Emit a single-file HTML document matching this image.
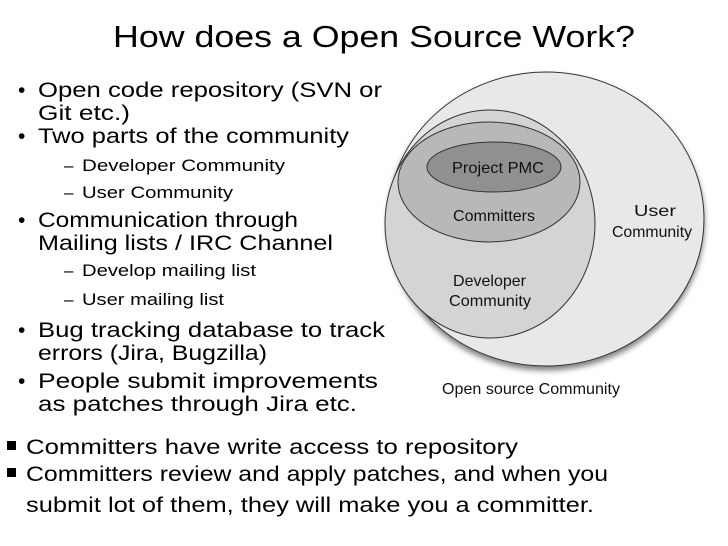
<!DOCTYPE html>
<html><head><meta charset="utf-8"><style>html,body{margin:0;padding:0;background:#fff}svg{display:block}</style></head><body>
<svg width="728" height="546" viewBox="0 0 728 546" xmlns="http://www.w3.org/2000/svg">
<defs><filter id="sh" x="-10%" y="-10%" width="120%" height="125%"><feGaussianBlur in="SourceAlpha" stdDeviation="3"/><feOffset dx="0" dy="4"/><feComponentTransfer><feFuncA type="linear" slope="0.5"/></feComponentTransfer><feMerge><feMergeNode/><feMergeNode in="SourceGraphic"/></feMerge></filter></defs>
<g font-family="Liberation Sans, Arial, sans-serif" fill="#000">
<ellipse cx="546" cy="219" rx="158" ry="147" fill="#e8e8e8" stroke="#333" stroke-width="1" filter="url(#sh)"/>
<ellipse cx="490" cy="224" rx="105" ry="114" fill="#d4d4d4" stroke="#333" stroke-width="1"/>
<ellipse cx="489" cy="182" rx="91" ry="60" fill="#b8b8b8" stroke="#333" stroke-width="1"/>
<ellipse cx="494" cy="167" rx="67" ry="25" fill="#909090" stroke="#333" stroke-width="1"/>
<g font-size="16" fill="#111">
<text x="452" y="173" textLength="92" lengthAdjust="spacingAndGlyphs">Project PMC</text>
<text x="453" y="221" textLength="82" lengthAdjust="spacingAndGlyphs">Committers</text>
<text x="453" y="286" textLength="73" lengthAdjust="spacingAndGlyphs">Developer</text>
<text x="449" y="306" textLength="82" lengthAdjust="spacingAndGlyphs">Community</text>
<text x="634" y="216" textLength="42" lengthAdjust="spacingAndGlyphs">User</text>
<text x="612" y="237" textLength="80" lengthAdjust="spacingAndGlyphs">Community</text>
<text x="442" y="394" textLength="178" lengthAdjust="spacingAndGlyphs">Open source Community</text>
</g>
</g>
<g font-family="Liberation Sans, Carlito, sans-serif" fill="#000">
<text x="113" y="47" font-size="31" textLength="522" lengthAdjust="spacingAndGlyphs">How does a Open Source Work?</text>
<g font-size="21">
<text x="18" y="97">•</text><text x="38" y="97" textLength="344" lengthAdjust="spacingAndGlyphs">Open code repository (SVN or</text>
<text x="38" y="120" textLength="92" lengthAdjust="spacingAndGlyphs">Git etc.)</text>
<text x="18" y="143">•</text><text x="38" y="143" textLength="311" lengthAdjust="spacingAndGlyphs">Two parts of the community</text>
<text x="18" y="227">•</text><text x="38" y="227" textLength="260" lengthAdjust="spacingAndGlyphs">Communication through</text>
<text x="38" y="250" textLength="295" lengthAdjust="spacingAndGlyphs">Mailing lists / IRC Channel</text>
<text x="18" y="337">•</text><text x="38" y="337" textLength="347" lengthAdjust="spacingAndGlyphs">Bug tracking database to track</text>
<text x="38" y="360" textLength="229" lengthAdjust="spacingAndGlyphs">errors (Jira, Bugzilla)</text>
<text x="18" y="388">•</text><text x="38" y="388" textLength="340" lengthAdjust="spacingAndGlyphs">People submit improvements</text>
<text x="38" y="411" textLength="319" lengthAdjust="spacingAndGlyphs">as patches through Jira etc.</text>
<text x="26" y="454" textLength="492" lengthAdjust="spacingAndGlyphs">Committers have write access to repository</text>
<text x="26" y="481" textLength="582" lengthAdjust="spacingAndGlyphs">Committers review and apply patches, and when you</text>
<text x="26" y="512" textLength="568" lengthAdjust="spacingAndGlyphs">submit lot of them, they will make you a committer.</text>
</g>
<rect x="7" y="441" width="9" height="9"/>
<rect x="7" y="468" width="9" height="9"/>
<g font-size="17">
<text x="64" y="171">–</text><text x="82" y="171" textLength="203" lengthAdjust="spacingAndGlyphs">Developer Community</text>
<text x="64" y="198">–</text><text x="82" y="198" textLength="151" lengthAdjust="spacingAndGlyphs">User Community</text>
<text x="64" y="276">–</text><text x="82" y="276" textLength="174" lengthAdjust="spacingAndGlyphs">Develop mailing list</text>
<text x="64" y="305">–</text><text x="82" y="305" textLength="142" lengthAdjust="spacingAndGlyphs">User mailing list</text>
</g>
</g>
</svg>
</body></html>
